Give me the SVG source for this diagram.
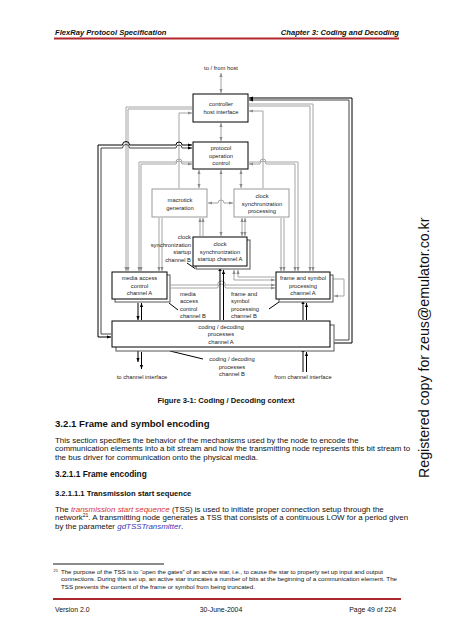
<svg xmlns="http://www.w3.org/2000/svg" width="452" height="640" viewBox="0 0 452 640">
<style>
.g{fill:none;stroke:#a4a4a4;stroke-width:1}
.k{fill:none;stroke:#000;stroke-width:1}
.k2{fill:none;stroke:#444;stroke-width:1}
.box{fill:#fff;stroke:#000;stroke-width:1}
.gbox{fill:#fff;stroke:#9a9a9a;stroke-width:1}
.sh{fill:#fff;stroke:#555;stroke-width:1}
.t{font-family:"Liberation Sans",Arial,sans-serif;font-size:5.8px;fill:#222;text-anchor:middle}
.tl{text-anchor:start}
.tr{text-anchor:end}
.f{font-family:"Liberation Sans",Arial,sans-serif;fill:#111}
.hd{font-weight:bold;font-style:italic;font-size:7.6px}
.p{font-size:7.95px}
.fn{font-size:6.2px}
.ft{font-size:6.9px}
</style>
<defs>
<marker id="ag" markerUnits="userSpaceOnUse" markerWidth="4" markerHeight="4" viewBox="0 0 4 4" refX="4" refY="2" orient="auto-start-reverse"><path d="M0,0.4 L4,2 L0,3.6 z" fill="#8c8c8c"/></marker>
<marker id="ak" markerUnits="userSpaceOnUse" markerWidth="4" markerHeight="4" viewBox="0 0 4 4" refX="4" refY="2" orient="auto-start-reverse"><path d="M0,0.4 L4,2 L0,3.6 z" fill="#000"/></marker>
</defs>
<rect width="452" height="640" fill="#fff"/>

<!-- page header -->
<text class="f hd" x="55" y="34.8">FlexRay Protocol Specification</text>
<text class="f hd tr" x="399" y="34.8" text-anchor="end">Chapter 3: Coding and Decoding</text>
<line x1="54" y1="38.5" x2="399" y2="38.5" stroke="#b3282d" stroke-width="1.8"/>

<!-- connectors -->
<g id="connectors">
<!-- gray -->
<path class="g" d="M221,73 V93" marker-start="url(#ag)" marker-end="url(#ag)"/>
<path class="g" d="M221,123 V141" marker-start="url(#ag)" marker-end="url(#ag)"/>
<path class="g" d="M199,170 V188" marker-start="url(#ag)" marker-end="url(#ag)"/>
<path class="g" d="M241,170 V188" marker-start="url(#ag)" marker-end="url(#ag)"/>
<path class="g" d="M221,170 V236" marker-start="url(#ag)" marker-end="url(#ag)"/>
<path class="g" d="M208,203 H218 A3,3 0 0 1 224,203 H233" marker-start="url(#ag)" marker-end="url(#ag)"/>
<path class="g" d="M126,271 V107 H192" marker-start="url(#ag)"/>
<path class="g" d="M128,271 V109 H192" marker-start="url(#ag)"/>
<path class="g" d="M179,188 V113 H192" marker-end="url(#ag)"/>
<path class="g" d="M139,271 V162 H176 A3,3 0 0 1 182,162 H192" marker-start="url(#ag)"/>
<path class="g" d="M141,271 V164 H176 A3,3 0 0 1 182,164 H192" marker-start="url(#ag)" marker-end="url(#ag)"/>
<path class="g" d="M159,218 V271" marker-end="url(#ag)"/>
<path class="g" d="M162,218 V271" marker-end="url(#ag)"/>
<path class="g" d="M200,236 V218" marker-end="url(#ag)"/>
<path class="g" d="M203,236 V218" marker-end="url(#ag)"/>
<path class="g" d="M242,236 V218" marker-start="url(#ag)" marker-end="url(#ag)"/>
<path class="g" d="M245,236 V218" marker-start="url(#ag)" marker-end="url(#ag)"/>
<path class="g" d="M281,218 V271" marker-end="url(#ag)"/>
<path class="g" d="M284,218 V271" marker-end="url(#ag)"/>
<path class="g" d="M263,188 V111 H249" marker-end="url(#ag)"/>
<path class="g" d="M313,271 V104 H249" marker-start="url(#ag)"/>
<path class="g" d="M310,271 V106 H249" marker-start="url(#ag)"/>
<path class="g" d="M298,271 V162 H266 A3,3 0 0 0 260,162 H249" marker-start="url(#ag)"/>
<path class="g" d="M295,271 V164 H266 A3,3 0 0 0 260,164 H249" marker-start="url(#ag)" marker-end="url(#ag)"/>
<path class="g" d="M234,270 V280 H275" marker-start="url(#ag)" marker-end="url(#ag)"/>
<path class="g" d="M238,270 V277 H275" marker-start="url(#ag)"/>
<path class="g" d="M171,285 H217.5 A4,4 0 0 1 225.5,285 H275" marker-end="url(#ag)"/>
<path class="g" d="M171,288 H217.5 A4,4 0 0 1 225.5,288 H275" marker-end="url(#ag)"/>
<path class="g" d="M331,279 H344 V296 H334" marker-end="url(#ag)"/>
<!-- black -->
<path class="k" d="M111,337 H98 V145 H122.5 A3.5,3.5 0 0 1 129.5,145 H176 A3,3 0 0 1 182,145 H192" marker-start="url(#ak)" marker-end="url(#ak)"/>
<path class="k2" d="M111,334 H101 V148 H122.5 A3.5,3.5 0 0 1 129.5,148 H176 A3,3 0 0 1 182,148 H192" marker-end="url(#ak)"/>
<path class="k" d="M331,343 H352 V98 H249" marker-end="url(#ak)"/>
<path class="k2" d="M335,340 H349 V100 H249" marker-end="url(#ak)"/>
<path class="k" d="M138,303 V320" marker-end="url(#ak)"/>
<path class="k" d="M141.5,320 V303" marker-end="url(#ak)"/>
<path class="k" d="M220,320 V267" marker-end="url(#ak)"/>
<path class="k" d="M223.5,320 V270" marker-end="url(#ak)"/>
<path class="k" d="M303,320 V300" marker-end="url(#ak)"/>
<path class="k" d="M306.5,320 V303" marker-end="url(#ak)"/>
<path class="k" d="M138,348 V362" marker-end="url(#ak)"/>
<path class="k" d="M141.5,352 V369" marker-end="url(#ak)"/>
<path class="k" d="M303,372 V348" marker-end="url(#ak)"/>
<path class="k" d="M306.5,372 V352" marker-end="url(#ak)"/>
<!-- leaders -->
<path class="k" d="M187,263 L195,268.5"/>
<path class="k" d="M169,303 L178,310"/>
<path class="k" d="M269,309 L279,302"/>
<path class="k" d="M170,351 L203,359"/>
</g>

<!-- nodes -->
<g id="host">
<text class="t" x="221" y="70">to / from host</text>
</g>
<g id="chi">
<rect class="box" x="193" y="94" width="55" height="28"/>
<text class="t" x="221" y="106">controller</text>
<text class="t" x="221" y="114">host interface</text>
</g>
<g id="poc">
<rect class="box" x="193" y="142" width="55" height="27"/>
<text class="t" x="221" y="150">protocol</text>
<text class="t" x="221" y="157.5">operation</text>
<text class="t" x="221" y="165">control</text>
</g>
<g id="macrotick">
<rect class="gbox" x="152" y="189" width="55" height="28"/>
<text class="t" x="180" y="202">macrotick</text>
<text class="t" x="180" y="209.5">generation</text>
</g>
<g id="csp">
<rect class="gbox" x="234" y="189" width="55" height="28"/>
<text class="t" x="262" y="198">clock</text>
<text class="t" x="262" y="205.5">synchronization</text>
<text class="t" x="262" y="213">processing</text>
</g>
<g id="css">
<rect class="sh" x="196" y="240" width="54" height="29"/>
<rect class="box" x="193" y="237" width="54" height="29"/>
<text class="t" x="220" y="246">clock</text>
<text class="t" x="220" y="253.5">synchronization</text>
<text class="t" x="220" y="261">startup channel A</text>
<text class="t tr" x="191" y="239" text-anchor="end">clock</text>
<text class="t tr" x="191" y="246.5" text-anchor="end">synchronization</text>
<text class="t tr" x="191" y="254" text-anchor="end">startup</text>
<text class="t tr" x="191" y="261.5" text-anchor="end">channel B</text>
</g>
<g id="mac">
<rect class="sh" x="115" y="275" width="55" height="27"/>
<rect class="box" x="112" y="272" width="55" height="27"/>
<text class="t" x="139.5" y="280">media access</text>
<text class="t" x="139.5" y="287.5">control</text>
<text class="t" x="139.5" y="295">channel A</text>
<text class="t tl" x="180" y="296" text-anchor="start">media</text>
<text class="t tl" x="180" y="303.3" text-anchor="start">access</text>
<text class="t tl" x="180" y="310.6" text-anchor="start">control</text>
<text class="t tl" x="180" y="318" text-anchor="start">channel B</text>
</g>
<g id="fsp">
<rect class="sh" x="279" y="275" width="54" height="27"/>
<rect class="box" x="276" y="272" width="54" height="27"/>
<text class="t" x="303" y="280">frame and symbol</text>
<text class="t" x="303" y="287.5">processing</text>
<text class="t" x="303" y="295">channel A</text>
<text class="t tl" x="231" y="296" text-anchor="start">frame and</text>
<text class="t tl" x="231" y="303.3" text-anchor="start">symbol</text>
<text class="t tl" x="231" y="310.6" text-anchor="start">processing</text>
<text class="t tl" x="231" y="318" text-anchor="start">channel B</text>
</g>
<g id="coding">
<rect class="sh" x="116" y="325" width="218" height="26"/>
<rect class="box" x="112" y="321" width="218" height="26"/>
<text class="t" x="221" y="328.5">coding / decoding</text>
<text class="t" x="221" y="336">processes</text>
<text class="t" x="221" y="343.5">channel A</text>
<text class="t" x="232" y="361">coding / decoding</text>
<text class="t" x="232" y="368.5">processes</text>
<text class="t" x="232" y="376">channel B</text>
</g>
<g id="chan-out">
<text class="t" x="142" y="379">to channel interface</text>
</g>
<g id="chan-in">
<text class="t" x="303" y="379">from channel interface</text>
</g>

<!-- body text -->
<text class="f" x="226" y="403" font-size="7.6" font-weight="bold" text-anchor="middle">Figure 3-1: Coding / Decoding context</text>
<text class="f" x="55" y="427" font-size="9.65" font-weight="bold">3.2.1 Frame and symbol encoding</text>
<text class="f p" x="55" y="442.5">This section specifies the behavior of the mechanisms used by the node to encode the</text>
<text class="f p" x="55" y="451">communication elements into a bit stream and how the transmitting node represents this bit stream to</text>
<text class="f p" x="55" y="459.5">the bus driver for communication onto the physical media.</text>
<text class="f" x="55" y="477" font-size="8.3" font-weight="bold">3.2.1.1 Frame encoding</text>
<text class="f" x="55" y="496" font-size="7.6" font-weight="bold">3.2.1.1.1 Transmission start sequence</text>
<text class="f p" x="55" y="511.5">The <tspan fill="#d8363a" font-style="italic">transmission start sequence</tspan> (TSS) is used to initiate proper connection setup through the</text>
<text class="f p" x="55" y="520">network<tspan font-size="5" dy="-3">21</tspan><tspan dy="3">. A transmitting node generates a TSS that consists of a continuous LOW for a period given</tspan></text>
<text class="f p" x="55" y="528.5">by the parameter <tspan fill="#3a3ab8" font-style="italic">gdTSSTransmitter</tspan>.</text>

<line x1="53" y1="564" x2="164" y2="564" stroke="#000" stroke-width="0.9"/>
<text class="f" x="53.5" y="571.5" font-size="4">21</text>
<text class="f fn" x="61" y="573.5" textLength="322" lengthAdjust="spacingAndGlyphs">The purpose of the TSS is to “open the gates” of an active star, i.e., to cause the star to properly set up input and output</text>
<text class="f fn" x="61" y="581" textLength="336" lengthAdjust="spacingAndGlyphs">connections. During this set up, an active star truncates a number of bits at the beginning of a communication element. The</text>
<text class="f fn" x="61" y="588.5" textLength="194" lengthAdjust="spacingAndGlyphs">TSS prevents the content of the frame or symbol from being truncated.</text>

<!-- footer -->
<line x1="53" y1="599" x2="401" y2="599" stroke="#a8282c" stroke-width="2"/>
<text class="f ft" x="55" y="612">Version 2.0</text>
<text class="f ft" x="221" y="612" text-anchor="middle">30-June-2004</text>
<text class="f ft" x="396" y="612" text-anchor="end">Page 49 of 224</text>

<!-- watermark -->
<text class="f" transform="translate(428.5,478) rotate(-90)" font-size="14.2" fill="#222">Registered copy for zeus@emulator.co.kr</text>
</svg>
